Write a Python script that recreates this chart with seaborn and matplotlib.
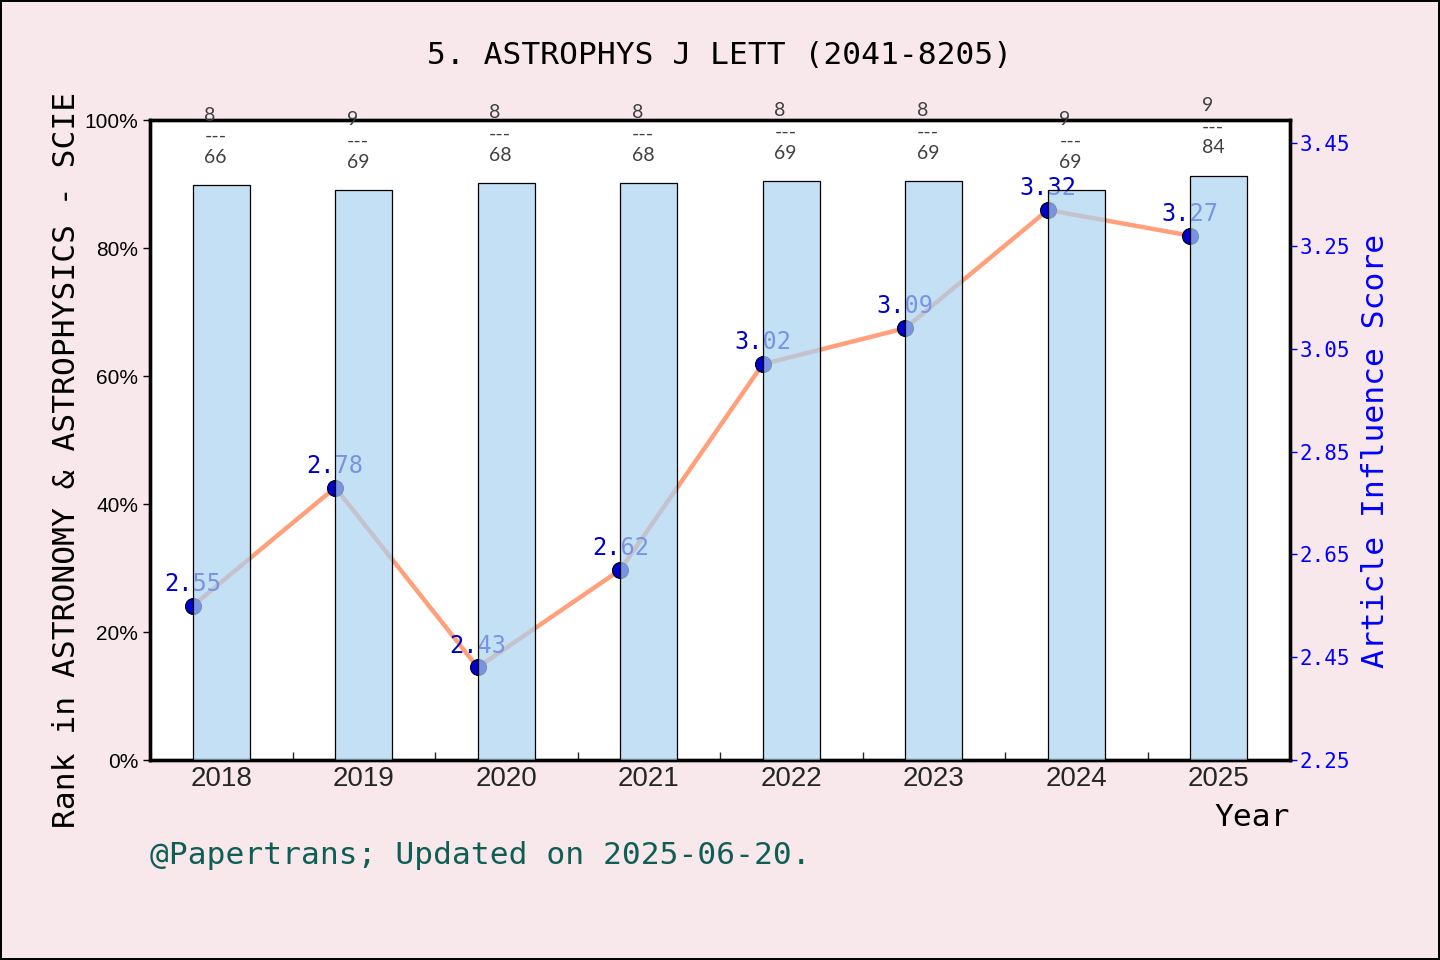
import numpy as np
import pandas as pd
import seaborn as sns
import matplotlib.pyplot as plt
from matplotlib.ticker import FixedLocator, FuncFormatter

# values
years = [2018, 2019, 2020, 2021, 2022, 2023, 2024, 2025]
rank = [8, 9, 8, 8, 8, 8, 9, 9]
total = [66, 69, 68, 68, 69, 69, 69, 84]
rank_pct = [89.8, 89.1, 90.2, 90.2, 90.5, 90.5, 89.1, 91.3]
ais = [2.55, 2.78, 2.43, 2.62, 3.02, 3.09, 3.32, 3.27]

sns.set_style('white')
plt.rcParams['font.family'] = ['DejaVu Sans Mono', 'DejaVu Sans']

pos = np.arange(len(years))
df = pd.DataFrame({'pos': pos, 'bar_pos': pos + 0.2, 'pct': rank_pct, 'ais': ais})

fig = plt.figure(figsize=(14.4, 9.6), dpi=100, facecolor='#f8e8ec',
                 edgecolor='black', linewidth=1.5)
ax = fig.add_axes([150 / 1440, 200 / 960, 1140 / 1440, 640 / 960])
ax.set_facecolor('white')

# score line (drawn first so the bars sit on top of it)
sns.lineplot(data=df, x='pos', y='ais', ax=ax, color='#ffa07a', linewidth=3.2)
ax.plot(df['pos'], df['ais'], 'o', color='#0000cd', markeredgecolor='black',
        markeredgewidth=0.8, markersize=11.5, zorder=5)
for x, v in zip(df['pos'], df['ais']):
    ax.annotate(f'{v:.2f}', (x, v), xytext=(0, 7), textcoords='offset points',
                ha='center', va='bottom', color='#0000cd', fontsize=17,
                fontfamily='DejaVu Sans Mono')

ax.set_xlim(-0.3, 7.7)
ax.set_ylim(2.25, 3.495)
ax.set_ylabel('')
ax.set_xlabel('')

# rank bars on the twin axis (drawn above the line)
ax2 = ax.twinx()
sns.barplot(data=df, x='bar_pos', y='pct', ax=ax2, native_scale=True, width=0.4,
            color=(172 / 255, 211 / 255, 241 / 255), saturation=1, zorder=3)
for p in ax2.patches:
    p.set_facecolor((172 / 255, 211 / 255, 241 / 255, 0.7))
    p.set_edgecolor('black')
    p.set_linewidth(0.9)
for x, v, r, t in zip(df['bar_pos'], df['pct'], rank, total):
    ax2.text(x - 0.04, v + 3.0, f'{r}\n---\n{t}', ha='center', va='bottom',
             multialignment='left', color='#404040', fontsize=14,
             fontfamily=['Lato', 'DejaVu Sans'], linespacing=1.3)

ax2.set_ylim(0, 100)
ax2.set_xlim(-0.3, 7.7)
ax2.yaxis.tick_left()
ax2.yaxis.set_label_position('left')
ax2.set_yticks(range(0, 101, 20))
ax2.yaxis.set_major_formatter(FuncFormatter(lambda v, p: f'{v:.0f}%'))
ax2.tick_params(axis='y', labelsize=15, length=5, width=1, direction='out',
                left=True, labelleft=True, right=False, labelright=False,
                colors='black')
for lab in ax2.get_yticklabels():
    lab.set_fontfamily(['Liberation Sans Narrow', 'Liberation Sans'])
ax2.set_ylabel('')
ax2.set_xlabel('')

# score axis on the right side
ax.yaxis.tick_right()
ax.set_yticks(np.arange(2.25, 3.46, 0.2))
ax.yaxis.set_major_formatter(FuncFormatter(lambda v, p: f'{v:.2f}'))
ax.tick_params(axis='y', colors='#0000ff', labelsize=15, length=5, width=1,
               direction='out', left=False, labelleft=False, right=True,
               labelright=True, pad=2)

ax.set_xticks(pos + 0.2)
ax.set_xticklabels([str(y) for y in years])
ax.xaxis.set_minor_locator(FixedLocator(pos[:-1] + 0.7))
ax.tick_params(axis='x', which='major', length=0, labelsize=20, pad=4)
ax.tick_params(axis='x', which='minor', bottom=True, direction='in', length=6, width=1)
for lab in ax.get_xticklabels():
    lab.set_fontfamily(['Liberation Sans', 'DejaVu Sans'])

for a in (ax, ax2):
    for s in a.spines.values():
        s.set_linewidth(2.4)
        s.set_color('black')

fig.text(0.5, 1 - 56 / 960, '5. ASTROPHYS J LETT (2041-8205)', ha='center',
         va='center', fontsize=22.5, color='black')
fig.text(67 / 1440, 1 - 460 / 960, 'Rank in ASTRONOMY & ASTROPHYSICS - SCIE',
         rotation=90, ha='center', va='center', fontsize=22.5, color='black')
fig.text(1375 / 1440, 1 - 451 / 960, 'Article Influence Score', rotation=90,
         ha='center', va='center', fontsize=22.5, color='#0000ff')
fig.text(1290 / 1440, 1 - 817 / 960, 'Year', ha='right', va='center',
         fontsize=22.5, color='black')
fig.text(150 / 1440, 1 - 855 / 960, '@Papertrans; Updated on 2025-06-20.',
         ha='left', va='center', fontsize=22.5, color='#0f5e54')

plt.savefig('out.png', dpi=100, facecolor=fig.get_facecolor(),
            edgecolor=fig.get_edgecolor())
